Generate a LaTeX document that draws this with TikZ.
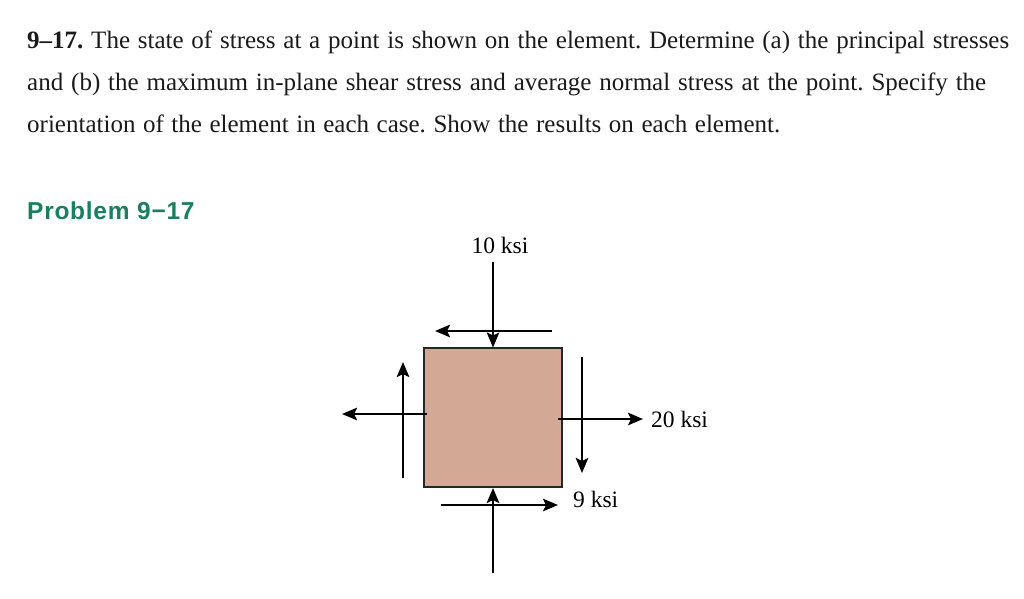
\documentclass[tikz,border=0pt]{standalone}
\usepackage{fontspec}
\setmainfont{Liberation Serif}
\newfontfamily\headfont[LetterSpace=3]{Liberation Sans}
\usetikzlibrary{arrows.meta}
\definecolor{elemfill}{HTML}{D3A995}
\definecolor{headgreen}{HTML}{1A7F5F}
\definecolor{bodyink}{HTML}{1A1A1A}
\tikzset{
  x=1pt,y=-1pt,
  bodyline/.style={anchor=base west,inner sep=0pt,text=bodyink,font=\frenchspacing\fontsize{25}{30}\selectfont},
  dimlabel/.style={inner sep=0pt,text=black,font=\fontsize{23.5}{27}\selectfont},
  force/.style={line width=2.3pt,-{Stealth[length=15pt,width=12.5pt,inset=3pt]}},
}
\begin{document}
\begin{tikzpicture}
\useasboundingbox (0,0) rectangle (1024,598);
\node[bodyline] (l1) at (27,48) {\makebox[982pt][s]{\textbf{9–17.} The state of stress at a point is shown on the element. Determine (a) the principal stresses}};
\node[bodyline] (l2) at (27,90) {\makebox[959pt][s]{and (b) the maximum in-plane shear stress and average normal stress at the point. Specify the}};
\node[bodyline] (l3) at (27,132) {\makebox[753pt][s]{orientation of the element in each case. Show the results on each element.}};
\node[anchor=base west,inner sep=0pt,text=headgreen,font=\headfont\bfseries\fontsize{24.5}{28}\selectfont] (head) at (27,219) {Problem 9−17};
\node[draw=black!85,line width=1.1pt,fill=elemfill,minimum width=138pt,minimum height=139pt,inner sep=0pt,outer sep=0pt] (elem) at (493,417.5) {};
\coordinate (ts) at (493,262); \coordinate (te) at (493,347.5);
\coordinate (bs) at (493,573); \coordinate (be) at (493,488);
\coordinate (ss1) at (552,331); \coordinate (se1) at (435,331);
\coordinate (ss2) at (441,505); \coordinate (se2) at (558,505);
\coordinate (ss3) at (403,478); \coordinate (se3) at (403,362);
\coordinate (ss4) at (582,357); \coordinate (se4) at (582,473);
\coordinate (ns1) at (427,414); \coordinate (ne1) at (342,414);
\coordinate (ns2) at (558,419); \coordinate (ne2) at (643,419);
\draw[force] (ss1) -- (se1);
\draw[force] (ts) -- (te);
\draw[force] (ss2) -- (se2);
\draw[force] (bs) -- (be);
\draw[force] (ss3) -- (se3);
\draw[force] (ss4) -- (se4);
\draw[force] (ns1) -- (ne1);
\draw[force] (ns2) -- (ne2);
\node[dimlabel] (a) at (500,245) {10 ksi};
\node[dimlabel,anchor=west] (b) at (651,419) {20 ksi};
\node[dimlabel,anchor=west] (c) at (573,499) {9 ksi};
\end{tikzpicture}
\end{document}
